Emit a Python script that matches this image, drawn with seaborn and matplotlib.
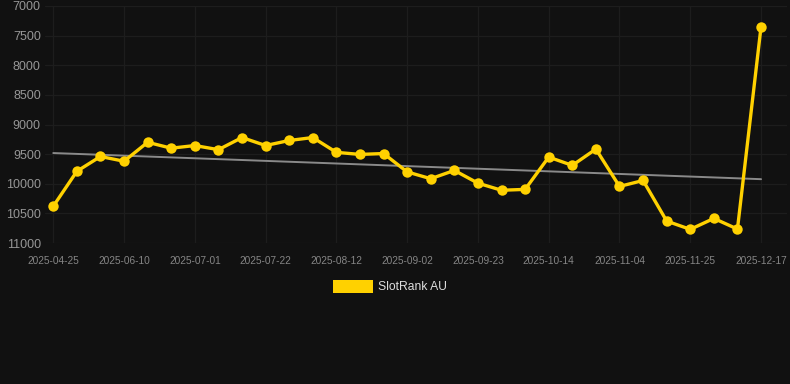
import numpy as np
import pandas as pd
import matplotlib
matplotlib.use("Agg")
import matplotlib.pyplot as plt
from matplotlib.patches import Patch
import seaborn as sns

dates = [
    "2025-04-25", "2025-05-27", "2025-06-03", "2025-06-10", "2025-06-17", "2025-06-24",
    "2025-07-01", "2025-07-08", "2025-07-15", "2025-07-22", "2025-07-29", "2025-08-05",
    "2025-08-12", "2025-08-19", "2025-08-26", "2025-09-02", "2025-09-09", "2025-09-16",
    "2025-09-23", "2025-09-30", "2025-10-07", "2025-10-14", "2025-10-21", "2025-10-28",
    "2025-11-04", "2025-11-11", "2025-11-18", "2025-11-25", "2025-12-02", "2025-12-09",
    "2025-12-17",
]
rank = [
    10380, 9790, 9540, 9620, 9300, 9400, 9355, 9425, 9220, 9355, 9270, 9220,
    9470, 9505, 9490, 9800, 9915, 9775, 9990, 10110, 10095, 9550, 9690, 9415,
    10045, 9945, 10630, 10770, 10585, 10765, 7350,
]
series_name = "SlotRank AU"

df = pd.DataFrame({"date": dates, "rank": rank})
df["idx"] = np.arange(len(df))

# linear trend over the whole series
coef = np.polyfit(df["idx"], df["rank"], 1)
df["trend"] = np.polyval(coef, df["idx"])

bg = "#111111"
gold = "#FFD100"
sns.set_style("dark")
plt.rcParams["font.family"] = ["Liberation Sans", "DejaVu Sans"]

fig = plt.figure(figsize=(7.9, 3.84), dpi=100, facecolor=bg)
ax = fig.add_axes([45 / 790, 1 - 243 / 384, 742 / 790, 237 / 384])
ax.set_facecolor(bg)

sns.lineplot(data=df, x="idx", y="trend", ax=ax, color="#8a8a8a", linewidth=1.4, legend=False)
sns.lineplot(data=df, x="idx", y="rank", ax=ax, color=gold, linewidth=2.4,
             marker="o", markersize=7.5, markeredgewidth=0, legend=False)

ax.set_ylim(11000, 7000)
ax.set_yticks(np.arange(7000, 11001, 500))
ax.set_xlim(-0.35, len(df) - 1 + 1.1)
ax.set_xticks(df["idx"][::3])
ax.set_xticklabels(df["date"][::3])

ax.grid(True, color="#1d1d1d", linewidth=0.9)
for s in ax.spines.values():
    s.set_visible(False)
ax.tick_params(axis="y", colors="#969696", labelsize=9, length=0, pad=3)
ax.tick_params(axis="x", colors="#858585", labelsize=7.3, length=4, width=0.8, pad=5)
for t in ax.get_xticklines():
    t.set_color("#2e2e2e")
ax.set_xlabel("")
ax.set_ylabel("")

leg = ax.legend(handles=[Patch(facecolor=gold, edgecolor="none", label=series_name)],
                loc="upper center", bbox_to_anchor=(345 / 742, -0.11), frameon=False,
                handlelength=3.3, handleheight=1.25, handletextpad=0.45, fontsize=8.7)
for t in leg.get_texts():
    t.set_color("#dddddd")

fig.savefig("out.png", dpi=100, facecolor=bg)
